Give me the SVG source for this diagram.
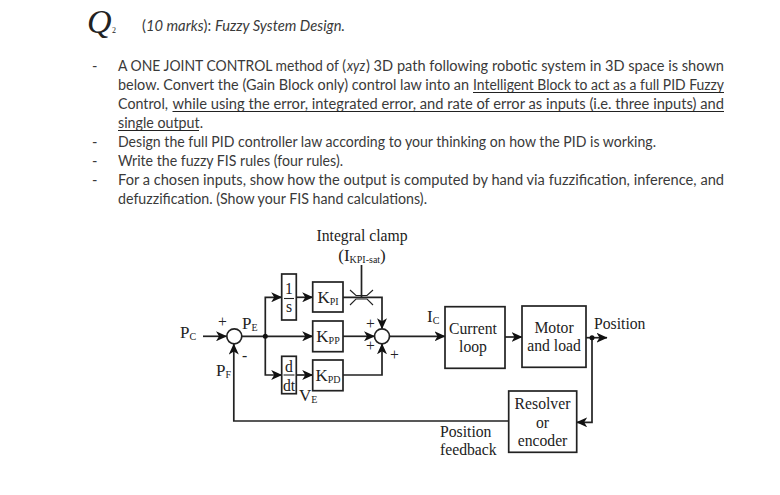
<svg xmlns="http://www.w3.org/2000/svg" width="780" height="495" viewBox="0 0 780 495">
<style>
.b{font-family:"Lato","Liberation Sans",sans-serif;font-size:14.6px;font-weight:400;fill:#3a3a3a}
.i{font-style:italic}
.ul{stroke:#222;stroke-width:1;fill:none}
.s{font-family:"Liberation Serif",serif;font-size:15.700px;fill:#222}
.k{font-size:17px}
.c{text-anchor:middle}
.sub{font-size:10px}
.box{fill:#fff;stroke:#222;stroke-width:1.700}
.w{fill:none;stroke:#222;stroke-width:1.700}
.thin{fill:none;stroke:#222;stroke-width:1.100}
</style>
<defs>
<marker id="a" markerUnits="userSpaceOnUse" markerWidth="12" markerHeight="10" refX="10.500" refY="5" orient="auto"><path d="M0 0L11 5L0 10L3 5Z" fill="#111"/></marker>
</defs>
<rect width="780" height="495" fill="#fff"/>
<g id="question-text">
<text x="87" y="33" font-family="Liberation Serif,serif" font-size="34" font-style="italic" fill="#222">Q</text>
<text x="112" y="33" font-family="Liberation Serif,serif" font-size="8" fill="#222">2</text>
<text class="b" x="142" y="31" textLength="203" lengthAdjust="spacingAndGlyphs">(<tspan class="i">10 marks</tspan>): <tspan class="i">Fuzzy System Design.</tspan></text>
<text class="b" x="92" y="71">-</text>
<text class="b" x="118" y="71" textLength="228" lengthAdjust="spacingAndGlyphs">A ONE JOINT CONTROL method of (</text>
<text class="b i" x="347" y="71" textLength="18" lengthAdjust="spacingAndGlyphs">xyz</text>
<text class="b" x="366" y="71" textLength="358" lengthAdjust="spacingAndGlyphs">) 3D path following robotic system in 3D space is shown</text>
<text class="b" x="118" y="90" textLength="351" lengthAdjust="spacingAndGlyphs">below.  Convert the (Gain Block only) control law into an</text>
<text class="b" x="473" y="90" textLength="251" lengthAdjust="spacingAndGlyphs">Intelligent Block to act as a full PID Fuzzy</text>
<text class="b" x="118" y="109" textLength="50" lengthAdjust="spacingAndGlyphs">Control,</text>
<text class="b" x="172.500" y="109" textLength="551.500" lengthAdjust="spacingAndGlyphs">while using the error, integrated error, and rate of error as inputs (i.e. three inputs) and</text>
<text class="b" x="118" y="128" textLength="85" lengthAdjust="spacingAndGlyphs">single output.</text>
<path class="ul" d="M473 92.500H724M172.500 111.500H724M118 130.500H199"/>
<text class="b" x="92" y="147">-</text>
<text class="b" x="118" y="147" textLength="538" lengthAdjust="spacingAndGlyphs">Design the full PID controller law according to your thinking on how the PID is working.</text>
<text class="b" x="92" y="166">-</text>
<text class="b" x="118" y="166" textLength="225" lengthAdjust="spacingAndGlyphs">Write the fuzzy FIS rules (four rules).</text>
<text class="b" x="92" y="185">-</text>
<text class="b" x="118" y="185" textLength="606" lengthAdjust="spacingAndGlyphs">For a chosen inputs, show how the output is computed by hand via fuzzification, inference, and</text>
<text class="b" x="118" y="204" textLength="309" lengthAdjust="spacingAndGlyphs">defuzzification. (Show your FIS hand calculations).</text>
</g>
<g id="connectors">
<path class="w" d="M203 336.300H226.500" marker-end="url(#a)"/>
<path class="w" d="M241.800 336.300H312.700" marker-end="url(#a)"/>
<path class="w" d="M265.300 336.300V297.300H281.700" marker-end="url(#a)"/>
<path class="w" d="M265.300 336.300V375H281.700" marker-end="url(#a)"/>
<path class="w" d="M296.300 297.300H312.700" marker-end="url(#a)"/>
<path class="w" d="M296.300 375H312.700" marker-end="url(#a)"/>
<path class="w" d="M343 297.300H382V328.800" marker-end="url(#a)"/>
<path class="w" d="M343 336.300H374.500" marker-end="url(#a)"/>
<path class="w" d="M343 375H382V343.800" marker-end="url(#a)"/>
<path class="w" d="M389.500 336.300H445" marker-end="url(#a)"/>
<path class="w" d="M505 337H522" marker-end="url(#a)"/>
<path class="w" d="M586 337.700H607" marker-end="url(#a)"/>
<path class="w" d="M592 337.700V422.300H576.700" marker-end="url(#a)"/>
<path class="w" d="M508.700 421H233.800V344" marker-end="url(#a)"/>
<path class="w" d="M361.500 265V297.300"/>
<path class="thin" d="M350 290L356 295.500H367L373 290M350 305L356 299H367L373 305"/>
<circle cx="265.300" cy="336.300" r="2.500" fill="#111"/>
<circle cx="592" cy="337.700" r="2.500" fill="#111"/>
</g>
<g id="sum-error"><circle cx="234.300" cy="336.300" r="7.500" class="box"/></g>
<g id="sum-output"><circle cx="382" cy="336.300" r="7.500" class="box"/></g>
<g id="integrator"><rect class="box" x="281.700" y="274" width="14.600" height="46"/><path class="thin" d="M284 298.500H294"/><text class="s c" x="289" y="293.500">1</text><text class="s c" x="289" y="312">s</text></g>
<g id="derivative"><rect class="box" x="281.700" y="356.300" width="14.600" height="37.400"/><path class="thin" d="M283.500 375H294.500"/><text class="s c" x="289" y="371.500">d</text><text class="s c" x="289" y="391" font-size="16">dt</text></g>
<g id="kpi"><rect class="box" x="312.700" y="282" width="30.300" height="30"/><text class="s k c" x="328" y="303">K<tspan class="sub" dy="2">PI</tspan></text></g>
<g id="kpp"><rect class="box" x="312.700" y="321" width="30.300" height="30.700"/><text class="s k c" x="328" y="342">K<tspan class="sub" dy="2">PP</tspan></text></g>
<g id="kpd"><rect class="box" x="312.700" y="360" width="30.300" height="30.700"/><text class="s k c" x="328" y="381">K<tspan class="sub" dy="2">PD</tspan></text></g>
<g id="current-loop"><rect class="box" x="445" y="306.700" width="60" height="61.600"/><text class="s c" x="473" y="334">Current</text><text class="s c" x="473" y="352">loop</text></g>
<g id="motor"><rect class="box" x="522" y="306" width="64" height="61.300"/><text class="s c" x="554" y="333">Motor</text><text class="s c" x="554" y="351">and load</text></g>
<g id="resolver"><rect class="box" x="508.700" y="391" width="68" height="61.300"/><text class="s c" x="542.500" y="409">Resolver</text><text class="s c" x="542.500" y="428">or</text><text class="s c" x="542.500" y="446">encoder</text></g>
<g id="labels">
<text class="s c" x="362" y="241">Integral clamp</text>
<text class="s k c" x="362" y="261">(I<tspan class="sub" dy="2">KPI-sat</tspan><tspan dy="-2">)</tspan></text>
<text class="s k" x="180" y="338">P<tspan class="sub" dy="2">C</tspan></text>
<text class="s" x="218" y="327">+</text>
<text class="s k" x="242" y="329">P<tspan class="sub" dy="2">E</tspan></text>
<text class="s k" x="216" y="376">P<tspan class="sub" dy="2">F</tspan></text>
<text class="s" x="242" y="361">-</text>
<text class="s" x="366" y="329">+</text>
<text class="s" x="366" y="351">+</text>
<text class="s" x="390" y="360">+</text>
<text class="s k" x="299" y="401">V<tspan class="sub" dy="2">E</tspan></text>
<text class="s k" x="427" y="322">I<tspan class="sub" dy="2">C</tspan></text>
<text class="s" x="594" y="329">Position</text>
<text class="s" x="440" y="437">Position</text>
<text class="s" x="440" y="455">feedback</text>
</g>
</svg>
